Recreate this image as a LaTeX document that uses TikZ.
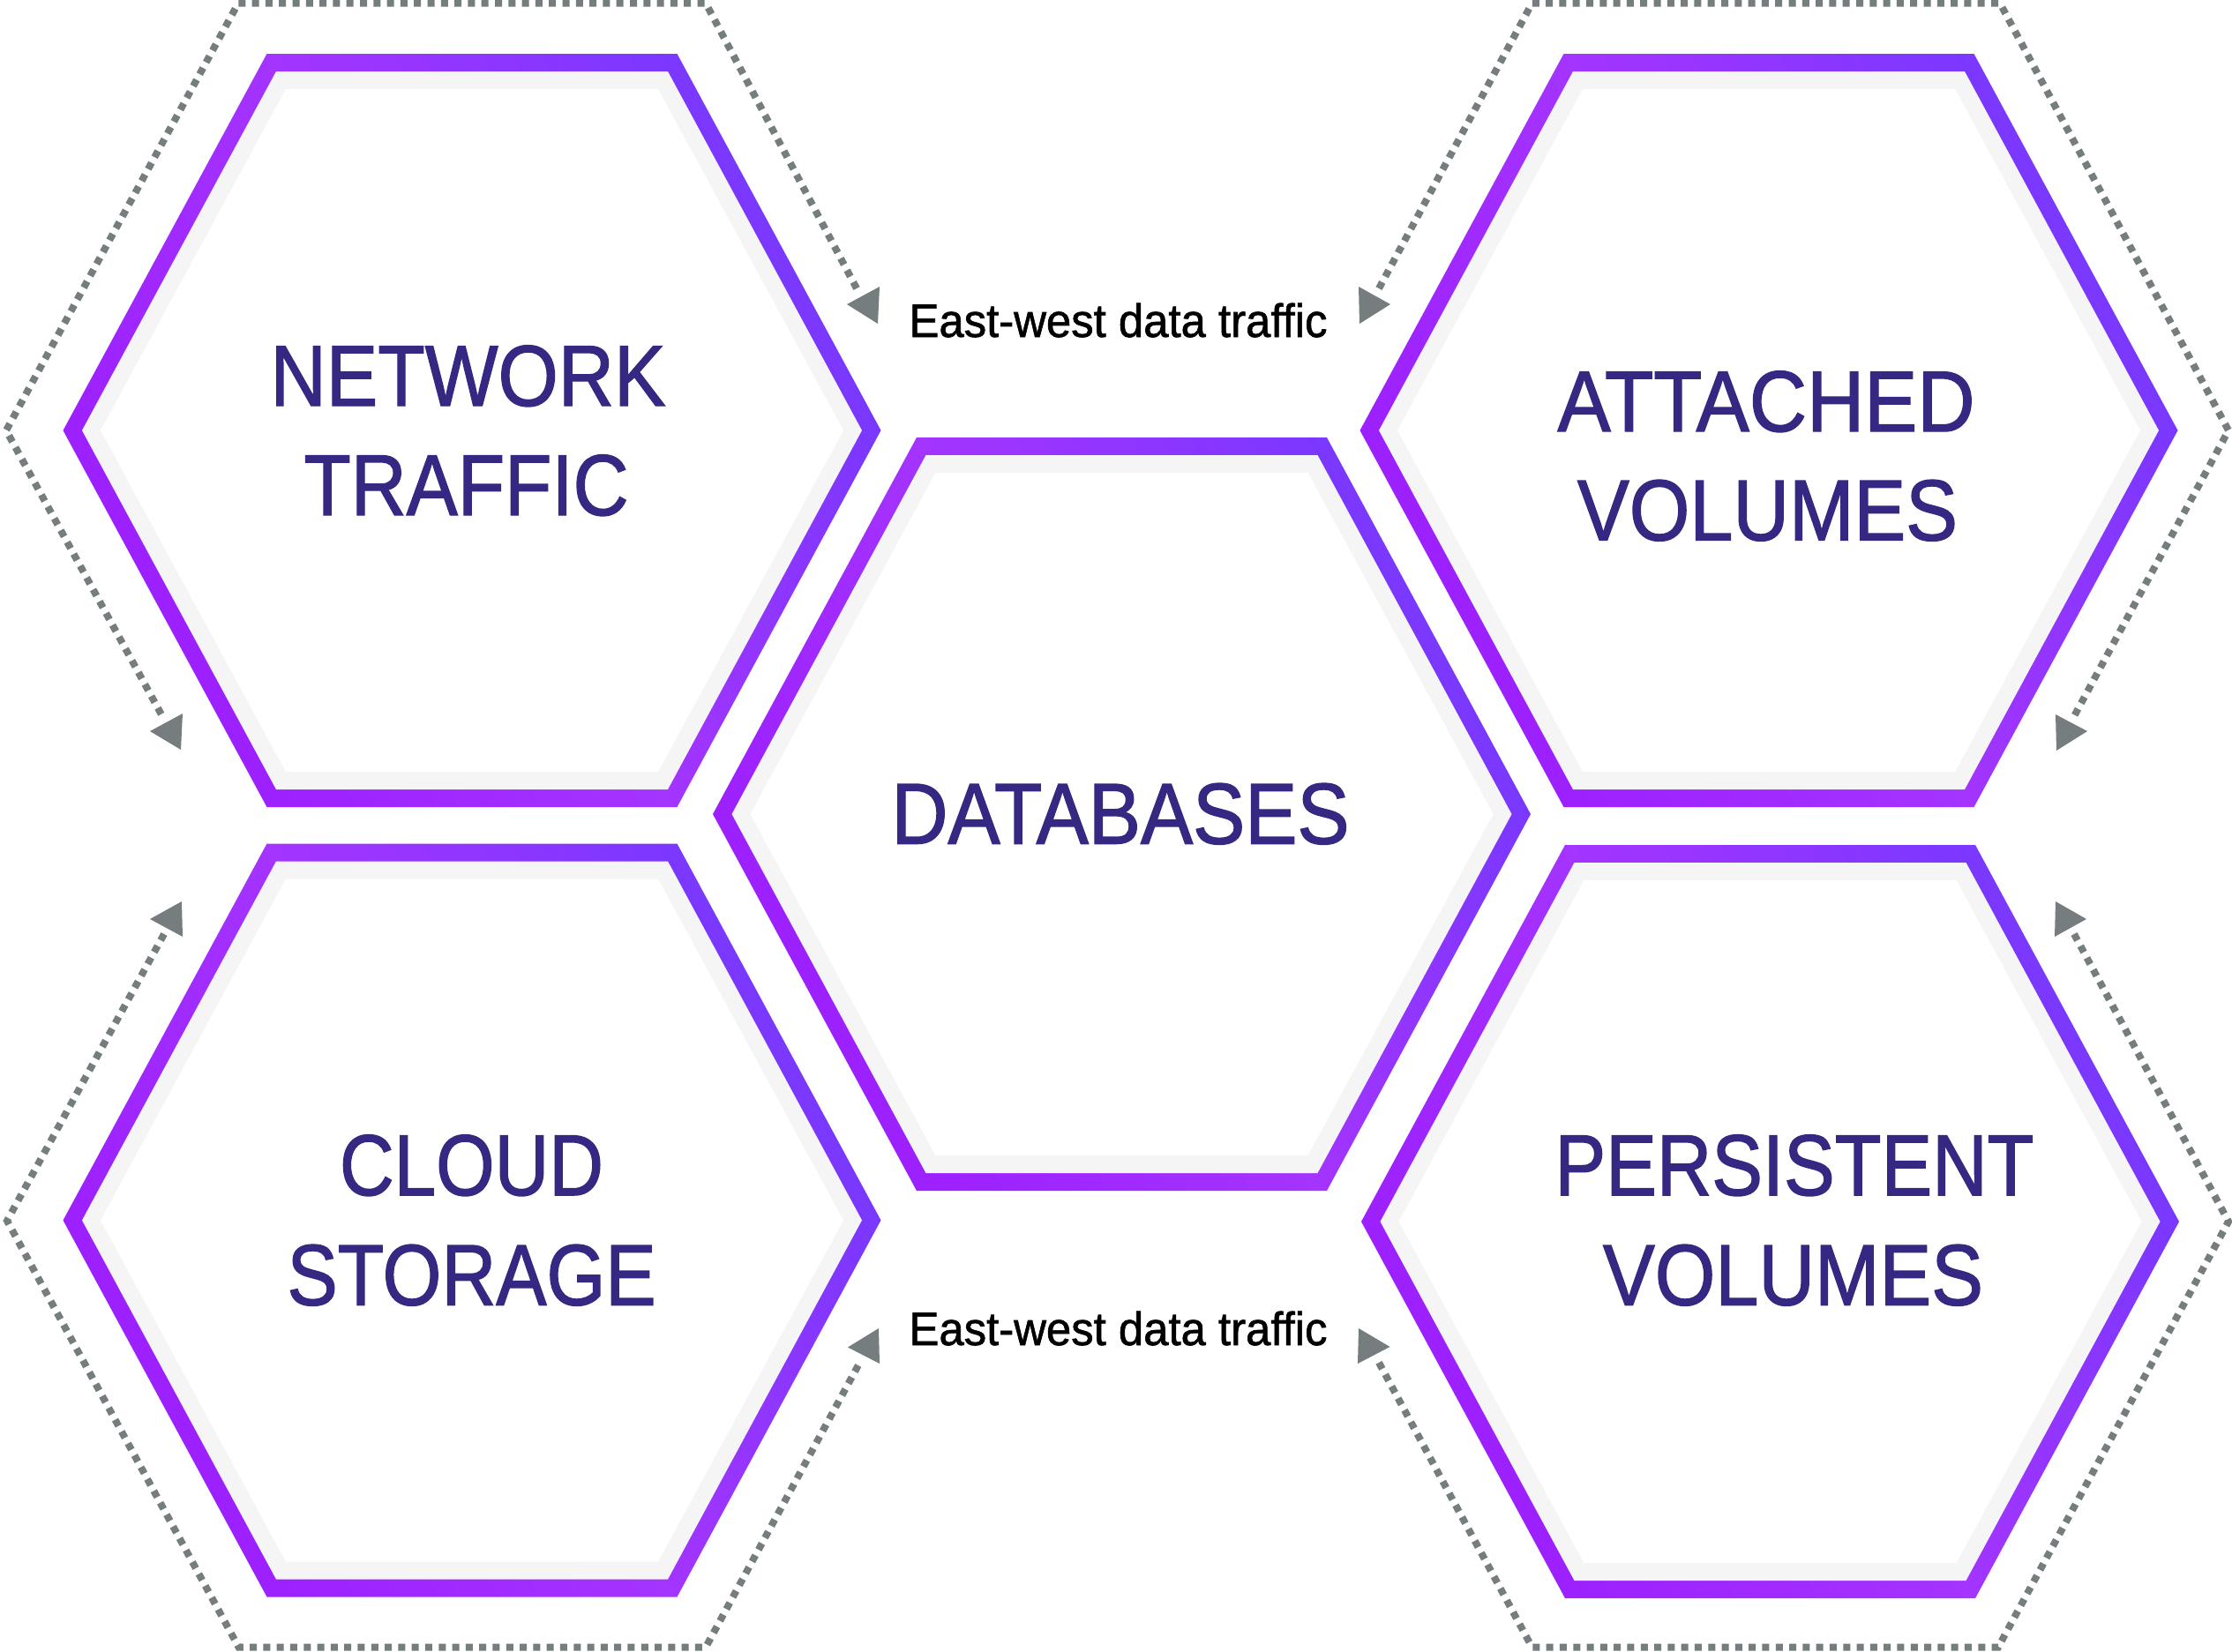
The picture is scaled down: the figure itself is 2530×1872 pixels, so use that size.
\documentclass[tikz,border=0pt]{standalone}
\usepackage{fontspec}
\setmainfont{Liberation Sans}
\newfontfamily\hexfont[FakeBold=1.5]{Liberation Sans}
\newfontfamily\trafficfont[FakeBold=1.2]{Liberation Sans}
\definecolor{deepviolet}{HTML}{9C1EFF}
\definecolor{midviolet}{HTML}{A434FF}
\definecolor{blueviolet}{HTML}{7638FF}
\definecolor{bandgray}{HTML}{F5F5F5}
\definecolor{labelindigo}{HTML}{352883}
\definecolor{connectorgray}{HTML}{757D7F}
\tikzset{
  hexgrad/.style={bottom color=deepviolet,top color=blueviolet,middle color=midviolet,shading angle=-62},
  hexband/.style={fill=bandgray},
  hexlabel/.style={inner sep=0pt,outer sep=0pt,anchor=base,text=labelindigo,font=\hexfont\fontsize{98}{98}\selectfont},
  trafficlabel/.style={inner sep=0pt,outer sep=0pt,anchor=base,text=black,font=\trafficfont\fontsize{53}{53}\selectfont},
  dotroute/.style={draw=connectorgray,line width=8pt,dash pattern=on 8pt off 7.3pt,line join=miter},
  headtip/.style={fill=connectorgray}
}
\newcommand\hexring[2]{%
  \begin{scope}[shift={(#1,#2)}]
    \shade[hexgrad] (-463.5,0)--(-232.5,-427)--(232.5,-427)--(463.5,0)--(232.5,427)--(-232.5,427)--cycle;
    \fill[hexband] (-442,0)--(-222,-407)--(222,-407)--(442,0)--(222,407)--(-222,407)--cycle;
    \fill[white] (-421,0)--(-211,-387)--(211,-387)--(421,0)--(211,387)--(-211,387)--cycle;
  \end{scope}}
\newcommand\fitw[2]{\resizebox{#1pt}{\height}{#2}}
\begin{document}
\begin{tikzpicture}[x=1pt,y=-1pt]
\fill[white] (0,0) rectangle (2530,1872);
\useasboundingbox (0,0) rectangle (2530,1872);

\hexring{535}{488}
\hexring{2005}{488}
\hexring{535}{1383.5}
\hexring{2006.5}{1385}
\hexring{1271.5}{923}

\node[hexlabel] (network) at (530.5,460) {\fitw{448}{NETWORK}};
\node[hexlabel] (traffic) at (528.5,584) {\fitw{368}{TRAFFIC}};
\node[hexlabel] (attached) at (2002,489) {\fitw{473}{ATTACHED}};
\node[hexlabel] (volumesa) at (2003.5,612.5) {\fitw{431}{VOLUMES}};
\node[hexlabel] (databases) at (1270,956.5) {\fitw{519}{DATABASES}};
\node[hexlabel] (cloud) at (534.5,1355) {\fitw{299}{CLOUD}};
\node[hexlabel] (storage) at (534.5,1479.5) {\fitw{418}{STORAGE}};
\node[hexlabel] (persistent) at (2034,1355) {\fitw{543}{PERSISTENT}};
\node[hexlabel] (volumesb) at (2032.5,1479.5) {\fitw{431}{VOLUMES}};
\node[trafficlabel] (eastwesta) at (1267.5,382) {\fitw{474}{East-west data traffic}};
\node[trafficlabel] (eastwestb) at (1267.5,1525) {\fitw{474}{East-west data traffic}};

% arrow heads
\coordinate (h1) at (960,345);
\fill[headtip] (h1)--(997,325)--(995,367)--cycle;
\coordinate (h2) at (170,829);
\fill[headtip] (h2)--(207,809)--(205,850)--cycle;
\coordinate (h3) at (1576,345);
\fill[headtip] (h3)--(1540,325)--(1541,367)--cycle;
\coordinate (h4) at (2366,829);
\fill[headtip] (h4)--(2330,810)--(2331,851)--cycle;
\coordinate (h5) at (170,1042);
\fill[headtip] (h5)--(206,1022)--(207,1062)--cycle;
\coordinate (h6) at (961,1527.5);
\fill[headtip] (h6)--(996,1506)--(997,1546)--cycle;
\coordinate (h7) at (2365,1042);
\fill[headtip] (h7)--(2330,1022)--(2329,1062)--cycle;
\coordinate (h8) at (1575.5,1527);
\fill[headtip] (h8)--(1540,1506)--(1539,1546)--cycle;

% dotted routes
\coordinate (d1s) at (971,327);
\coordinate (d1e) at (184,812);
\draw[dotroute] (d1s)--(800,3.7)--(270,3.7)--(7,488)--(d1e);
\coordinate (d2s) at (1563,327);
\coordinate (d2e) at (2351,812);
\draw[dotroute] (d2s)--(1736.5,3.7)--(2267,3.7)--(2526,488)--(d2e);
\coordinate (d3s) at (186,1059);
\coordinate (d3e) at (975.5,1543);
\draw[dotroute] (d3s)--(8,1384)--(270.5,1867.5)--(800,1867.5)--(d3e);
\coordinate (d4s) at (2351,1059);
\coordinate (d4e) at (1562.5,1544);
\draw[dotroute] (d4s)--(2526,1385)--(2265,1867.5)--(1736.5,1867.5)--(d4e);
\end{tikzpicture}
\end{document}
